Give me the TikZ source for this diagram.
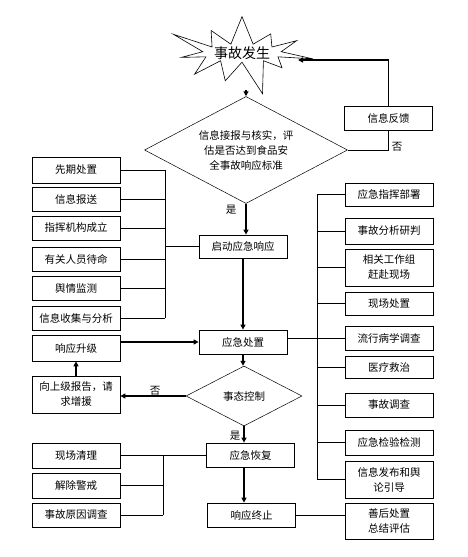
\documentclass[tikz,border=0pt]{standalone}
\usepackage{fontspec}
\setmainfont{Noto Sans CJK SC}
\usetikzlibrary{shapes,arrows.meta}
\begin{document}
\begin{tikzpicture}[x=1pt,y=-1pt,
      every node/.style={font=\fontsize{10.5}{15}\selectfont},
      box/.style={draw,rectangle,line width=0.8pt,minimum width=88pt,minimum height=24pt,inner sep=1pt,align=center},
      choice/.style={draw,diamond,line width=0.5pt,aspect=2,inner sep=0pt,align=center},
      flow/.style={line width=1.3pt,-{Triangle[length=5pt,width=5pt]}},
      link/.style={line width=0.7pt}]
    \useasboundingbox (0,0) rectangle (468,557);
    \node[starburst,draw,line width=0.6pt,minimum width=118pt,minimum height=80pt,starburst points=11,starburst point height=38pt,inner sep=0pt,font=\fontsize{14}{14}\selectfont] (star) at (242,53) {事故发生};
    \node[choice,minimum width=203pt,minimum height=107pt] (report) at (246,150) {信息接报与核实，评\\估是否达到食品安\\全事故响应标准};
    \node[box] (feedback) at (388.5,118) {信息反馈};
    \node[box,minimum height=23pt] (start) at (243,246.5) {启动应急响应};
    \node[box] (handle) at (243,342) {应急处置};
    \node[choice,minimum width=116pt,minimum height=60pt] (control) at (244,396) {事态控制};
    \node[box] (recover) at (250.5,455) {应急恢复};
    \node[box] (finish) at (251.5,515) {响应终止};
    \node[box,minimum height=26pt] (early) at (76,170) {先期处置};
    \node[box] (send) at (76,199) {信息报送};
    \node[box] (command) at (76,228) {指挥机构成立};
    \node[box] (standby) at (76,259) {有关人员待命};
    \node[box] (opinion) at (76,288.5) {舆情监测};
    \node[box] (collect) at (76,318) {信息收集与分析};
    \node[box,minimum height=26pt] (upgrade) at (76,348) {响应升级};
    \node[box,minimum height=37pt] (ask) at (76,394.5) {向上级报告，请\\求增援};
    \node[box,minimum height=25pt] (clean) at (76,455.5) {现场清理};
    \node[box,minimum height=25pt] (alarm) at (76,485.5) {解除警戒};
    \node[box] (cause) at (76,515) {事故原因调查};
    \node[box,minimum height=23pt] (deploy) at (389,194.5) {应急指挥部署};
    \node[box,minimum height=26pt] (judge) at (389,231) {事故分析研判};
    \node[box,minimum height=37pt] (team) at (389,267.5) {相关工作组\\赶赴现场};
    \node[box,minimum height=23pt] (scene) at (389,303.5) {现场处置};
    \node[box] (epidem) at (389,338) {流行病学调查};
    \node[box,minimum height=22pt] (treat) at (389,367) {医疗救治};
    \node[box] (survey) at (389,405) {事故调查};
    \node[box,minimum height=25pt] (detect) at (389,442.5) {应急检验检测};
    \node[box,minimum height=37pt] (publish) at (389,479.5) {信息发布和舆\\论引导};
    \node[box,minimum height=36pt] (after) at (389,521) {善后处置\\总结评估};
    \coordinate (lbus) at (165,0);
    \coordinate (rbus) at (317,0);
    \coordinate (dbus) at (163,0);
    \coordinate (back) at (298,60);
    \coordinate (drop) at (246,90);
    \draw[flow] (drop) -- (report.north);
    \draw[flow] (feedback.north) |- (back);
    \draw[link] (report.east) -| (feedback.south);
    \node (no1) at (397,147) {否};
    \draw[flow] (report.south) -- (report.south |- start.north);
    \node (yes1) at (231,210) {是};
    \draw[flow] (start) -- (handle);
    \foreach \n in {early,send,command,standby,opinion,collect}
        \draw[link] (\n.east) -- (\n.east -| lbus);
    \draw[link] (early.east -| lbus) -- (collect.east -| lbus);
    \draw[link] (start.west) -- (start.west -| lbus);
    \foreach \n in {deploy,judge,team,scene,epidem,treat,survey,detect,publish}
        \draw[link] (\n.west) -- (\n.west -| rbus);
    \draw[link] (deploy.west -| rbus) -- (publish.west -| rbus);
    \draw[link] (epidem.west) -- (epidem.west -| handle.east);
    \draw[flow] (handle.west -| upgrade.east) -- (handle.west);
    \draw[flow] (ask) -- (upgrade);
    \draw[flow] (handle.south) -- (handle.south |- control.north);
    \draw[flow] (control.west) -- (control.west -| ask.east);
    \node (no2) at (155,391) {否};
    \draw[flow] (control.south) -- (control.south |- recover.north);
    \node (yes2) at (235,436) {是};
    \draw[flow] (control.south |- recover.south) -- (control.south |- finish.north);
    \foreach \n in {clean,alarm,cause}
        \draw[link] (\n.east) -- (\n.east -| dbus);
    \draw[link] (clean.east -| dbus) -- (cause.east -| dbus);
    \draw[link] (recover.west) -- (recover.west -| dbus);
    \draw[link] (finish.east) -- (finish.east -| after.west);
\end{tikzpicture}
\end{document}
